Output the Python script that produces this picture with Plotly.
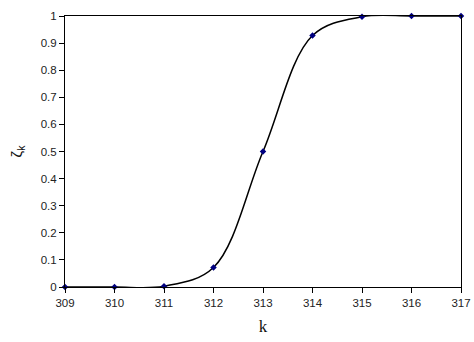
import plotly.graph_objects as go

k_values = [309, 310, 311, 312, 313, 314, 315, 316, 317]
zeta_values = [0.0, 0.0, 0.003, 0.072, 0.5, 0.928, 0.997, 1.0, 1.0]
x_tick_labels = ["309", "310", "311", "312", "313", "314", "315", "316", "317"]
y_tick_values = [0, 0.1, 0.2, 0.3, 0.4, 0.5, 0.6, 0.7, 0.8, 0.9, 1]
y_tick_labels = ["0", "0.1", "0.2", "0.3", "0.4", "0.5", "0.6", "0.7", "0.8", "0.9", "1"]

fig = go.Figure()
fig.add_trace(go.Scatter(
    x=k_values, y=zeta_values, mode="lines",
    line=dict(color="black", width=1.5, shape="spline", smoothing=1.0),
    hoverinfo="skip", showlegend=False,
))
fig.add_trace(go.Scatter(
    x=k_values, y=zeta_values, mode="markers",
    marker=dict(symbol="diamond", size=5, color="#000080"),
    cliponaxis=False, showlegend=False,
))

axis_common = dict(
    showgrid=False, zeroline=False, showline=True, linecolor="black", linewidth=1,
    mirror=True, ticks="outside", ticklen=5, tickwidth=1, tickcolor="black",
    automargin=False,
    tickfont=dict(family="Liberation Sans, Arial, sans-serif", size=11.5, color="#222"),
)

fig.update_xaxes(
    range=[309, 317], tickvals=k_values, ticktext=x_tick_labels,
    title=dict(text="k", font=dict(family="Liberation Serif, Times New Roman, serif", size=17, color="#111"), standoff=12),
    **axis_common,
)
fig.update_yaxes(
    range=[0, 1], tickvals=y_tick_values, ticktext=y_tick_labels,
    title=dict(text="ζ<sub>k</sub>", font=dict(family="Liberation Sans, Arial, sans-serif", size=15, color="#111"), standoff=14),
    **axis_common,
)
fig.update_layout(
    width=474, height=342,
    margin=dict(l=65, r=13, t=16, b=55),
    paper_bgcolor="white", plot_bgcolor="white",
)
fig.write_html("out.html")
